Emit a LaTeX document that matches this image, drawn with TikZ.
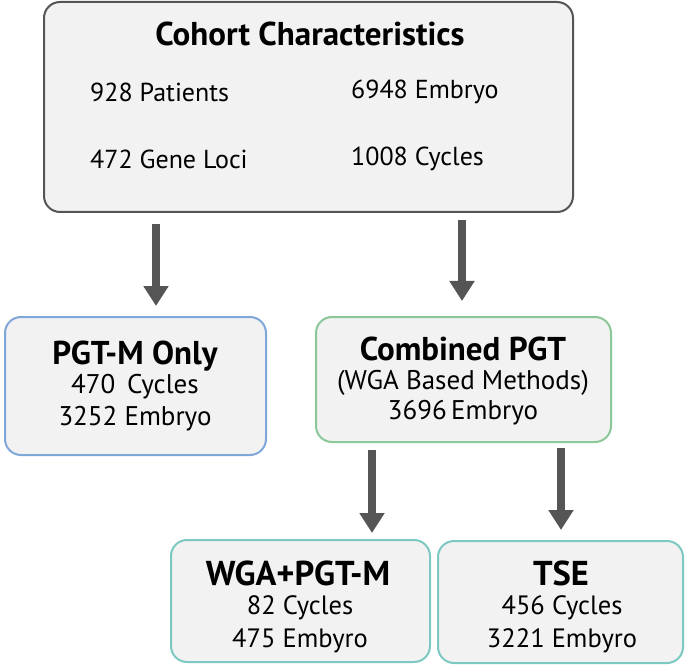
\documentclass[tikz,border=0pt]{standalone}
\usepackage{fontspec}
\setmainfont{PT Sans}
\usetikzlibrary{arrows.meta}
\definecolor{boxfill}{HTML}{F2F2F2}
\definecolor{darkedge}{HTML}{555555}
\definecolor{blueedge}{HTML}{7FA7D9}
\definecolor{greenedge}{HTML}{8CC79A}
\definecolor{tealedge}{HTML}{7CC8C2}
\definecolor{arrowgray}{HTML}{555555}
\begin{document}
\begin{tikzpicture}[x=1pt,y=-1pt,
  card/.style={draw, fill=boxfill, rounded corners=16pt, line width=2pt},
  title/.style={font=\fontsize{33}{35}\selectfont\bfseries, anchor=center, inner sep=0pt},
  lowtitle/.style={font=\fontsize{34.5}{36}\selectfont\bfseries, anchor=center, inner sep=0pt},
  body/.style={font=\fontsize{26}{28}\selectfont, inner sep=0pt},
  midbody/.style={font=\fontsize{27}{29}\selectfont, inner sep=0pt},
  lowbody/.style={font=\fontsize{26.5}{28}\selectfont, inner sep=0pt},
  flow/.style={draw=arrowgray, line width=8pt, -{Triangle[width=24pt,length=20pt]}}
]
\useasboundingbox (0,0) rectangle (685,668);
% boxes
\draw[card, draw=darkedge] (44,2) rectangle (573,212);
\node[title] (cohort) at (310,34) {Cohort Characteristics};
\node[body, anchor=west] (pat) at (90,92) {928 Patients};
\node[body, anchor=west] (emb) at (351,92) {6948 Embryo};
\node[body, anchor=west] (loci) at (90,159) {472 Gene Loci};
\node[body, anchor=west] (cyc) at (351,159) {1008 Cycles};
\coordinate (topL) at (156,224);
\coordinate (topR) at (462,220);

\draw[card, draw=blueedge] (5,317) rectangle (266,455);
\node[title] (pgtm) at (135,356) {PGT-M Only};
\node[midbody] (pgtmc) at (135,387) {470\,\ Cycles};
\node[midbody] (pgtme) at (135,419) {3252 Embryo};
\coordinate (pgtmTop) at (156,306);

\draw[card, draw=greenedge] (316,317) rectangle (611,442);
\node[title] (comb) at (463,349) {Combined PGT};
\node[midbody] (combs) at (463,383) {(WGA Based Methods)};
\node[midbody] (combe) at (463,413) {3696\,Embryo};
\coordinate (combTop) at (462,301);
\coordinate (combBL) at (372,450);
\coordinate (combBR) at (561,448);

\draw[card, draw=tealedge] (171,540) rectangle (430,662);
\node[lowtitle] (wga) at (298,573) {WGA+PGT-M};
\node[lowbody] (wgac) at (300,608) {82 Cycles};
\node[lowbody] (wgae) at (300,641) {475 Embyro};
\coordinate (wgaTop) at (372,533);

\draw[card, draw=tealedge] (438,541) rectangle (683,663);
\node[lowtitle] (tse) at (561,573) {TSE};
\node[lowbody] (tsec) at (562,608) {456 Cycles};
\node[lowbody] (tsee) at (562,641) {3221 Embyro};
\coordinate (tseTop) at (561,530);

% arrows
\draw[flow] (topL) -- (pgtmTop);
\draw[flow] (topR) -- (combTop);
\draw[flow] (combBL) -- (wgaTop);
\draw[flow] (combBR) -- (tseTop);
\end{tikzpicture}
\end{document}
